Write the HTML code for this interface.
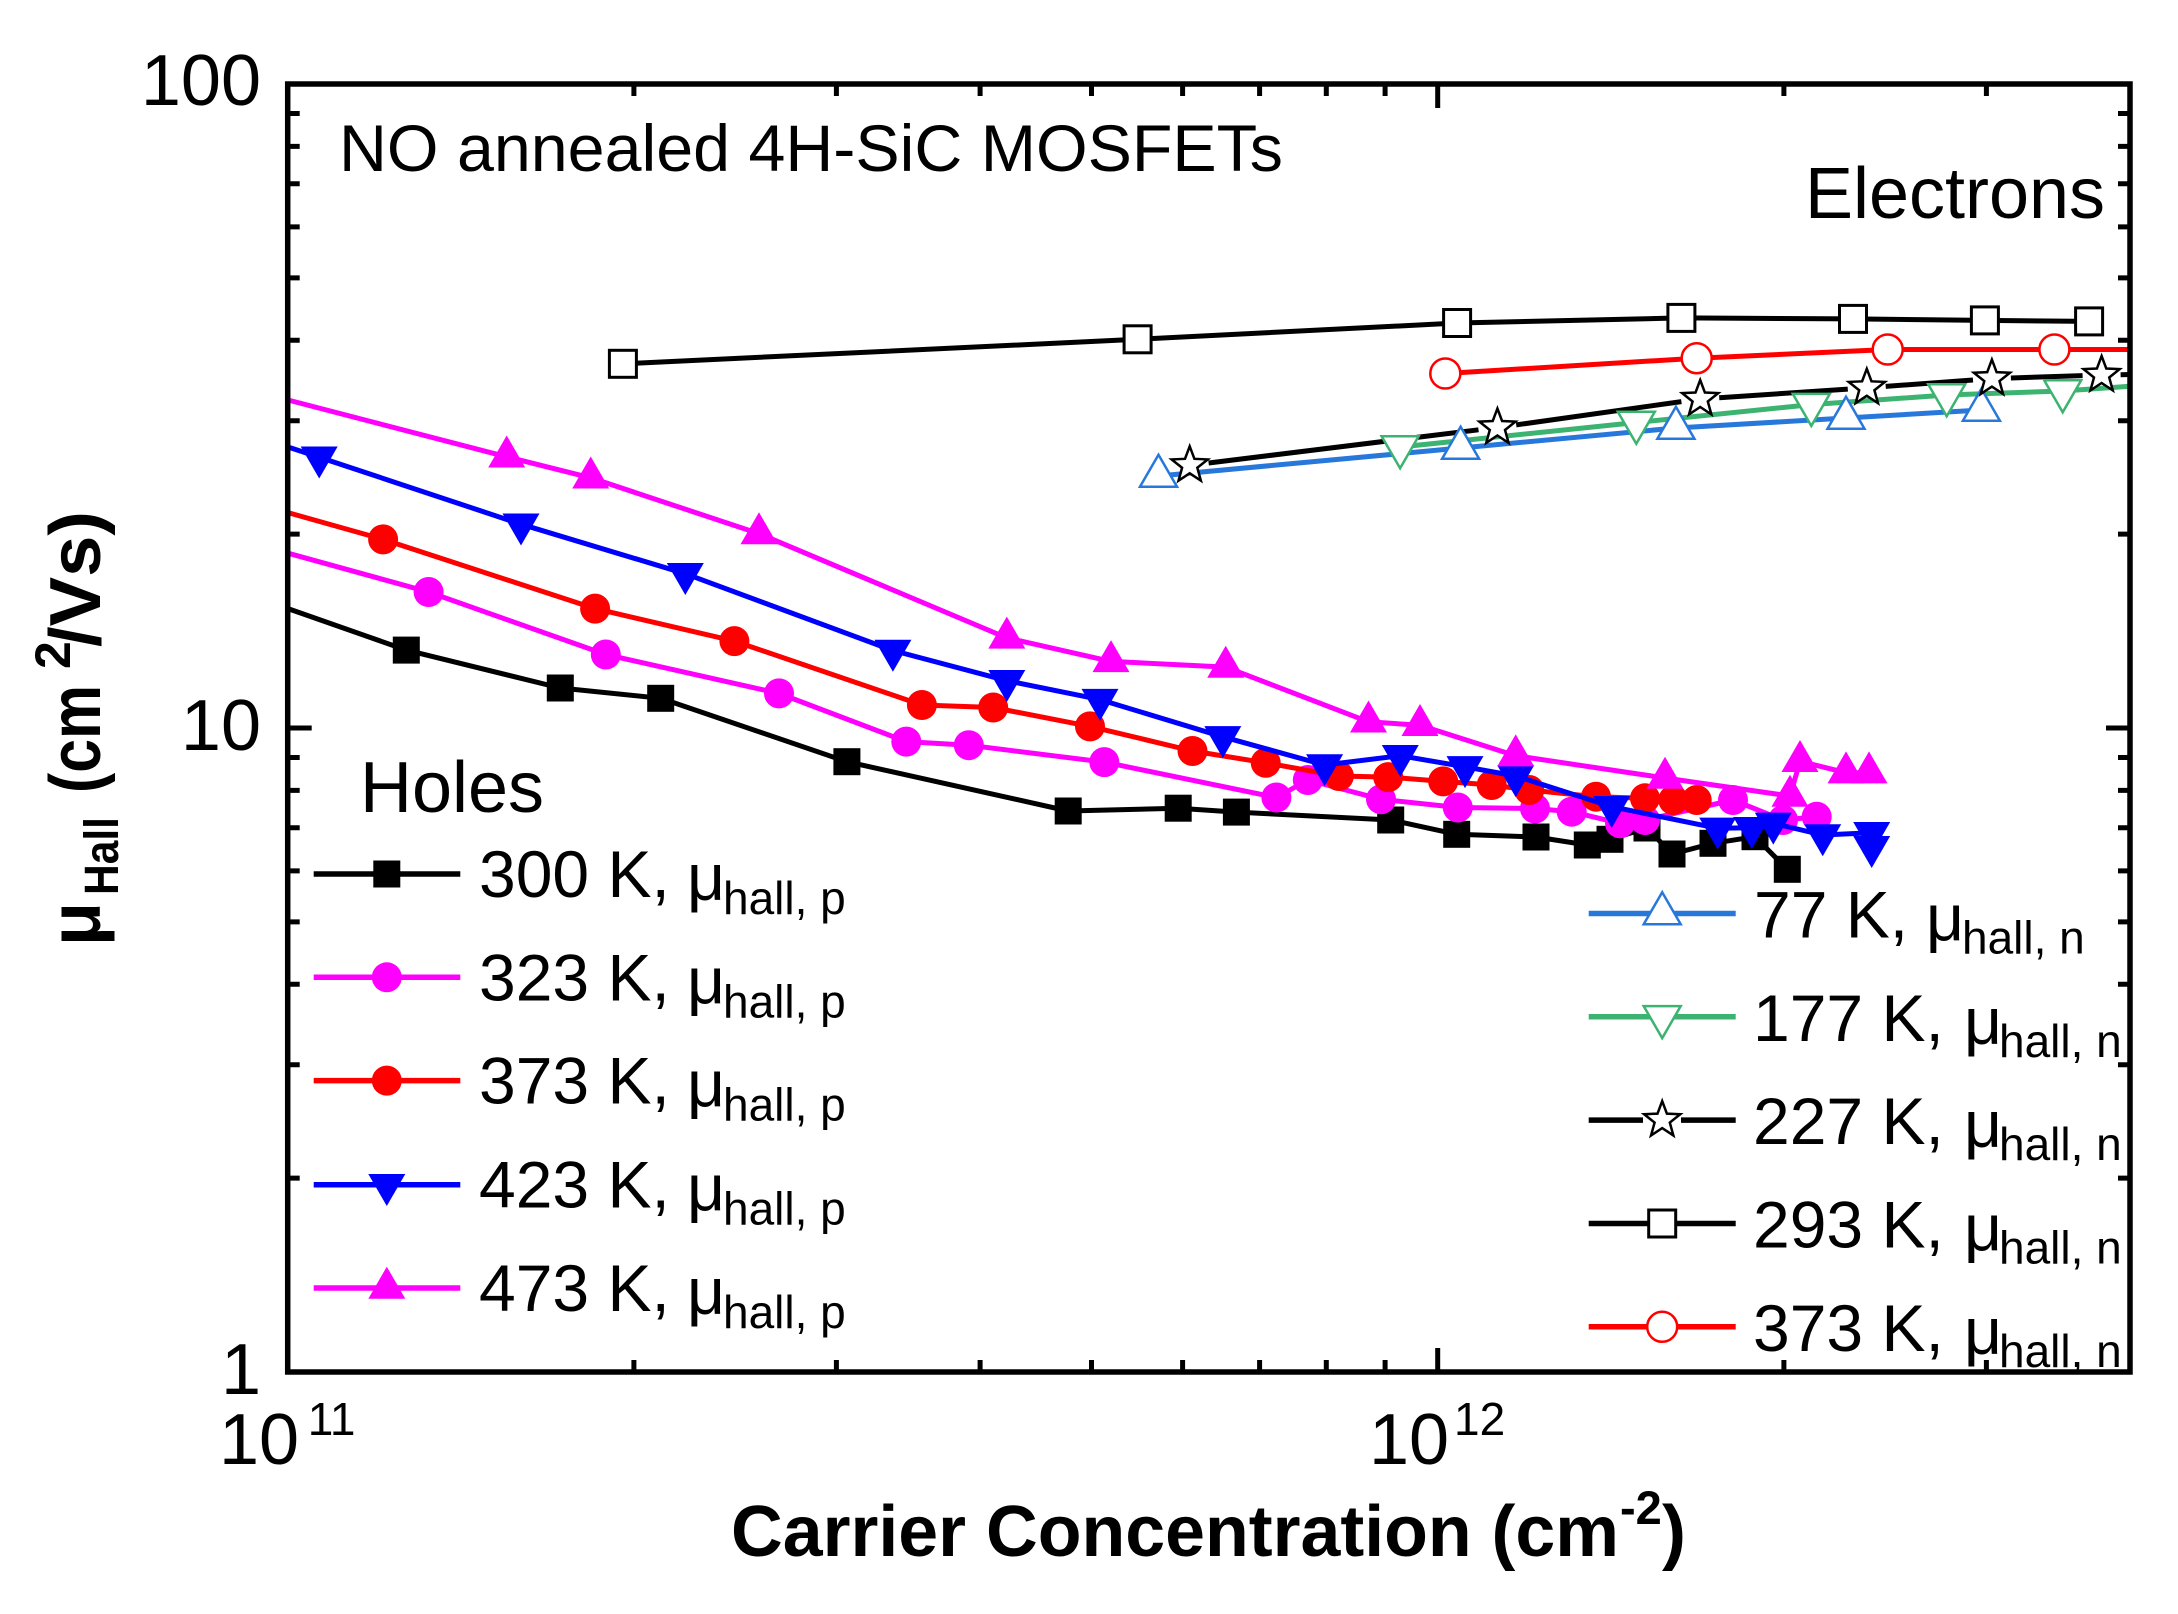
<!DOCTYPE html>
<html><head><meta charset="utf-8"><style>
html,body{margin:0;padding:0;background:#fff;}
svg{display:block;}
text{font-family:"Liberation Sans",Arial,sans-serif;fill:#000;}
</style></head><body>
<svg width="2178" height="1614" viewBox="0 0 2178 1614" xmlns="http://www.w3.org/2000/svg">
<rect x="0" y="0" width="2178" height="1614" fill="#fff"/>
<defs>
<rect id="sq" x="-13.5" y="-13.5" width="27" height="27" fill="#000"/>
<circle id="cm" cx="0" cy="0" r="15" fill="#ff00ff"/>
<circle id="cr" cx="0" cy="0" r="15" fill="#ff0000"/>
<polygon id="td" points="-18.5,-10.7 18.5,-10.7 0,21.3" fill="#0000ff"/>
<polygon id="tu" points="0,-21.3 18.5,10.7 -18.5,10.7" fill="#ff00ff"/>
<polygon id="otu" points="0,-21.3 18.5,10.7 -18.5,10.7" fill="#fff" stroke="#2878dc" stroke-width="2.5"/>
<polygon id="otd" points="-18.5,-10.7 18.5,-10.7 0,21.3" fill="#fff" stroke="#3cb371" stroke-width="2.5"/>
<polygon id="st" points="0,-19 4.7,-6.47 18.07,-5.87 7.61,2.47 11.17,15.37 0,8 -11.17,15.37 -7.61,2.47 -18.07,-5.87 -4.7,-6.47" fill="#fff" stroke="#000" stroke-width="2.5" stroke-linejoin="miter"/>
<rect id="osq" x="-13.5" y="-13.5" width="27" height="27" fill="#fff" stroke="#000" stroke-width="3"/>
<circle id="oc" cx="0" cy="0" r="15" fill="#fff" stroke="#ff0000" stroke-width="2.5"/>
</defs>

<!-- Electrons series -->
<g fill="none" stroke-width="5" stroke-linejoin="round">
<polyline stroke="#3cb371" points="1400.1,447 1636.3,422.5 1811.3,404.6 1946.7,395 2062.7,391 2130,386.2"/>
<polyline stroke="#2878dc" points="1158.5,476 1460.6,448 1675.9,428 1846,418 1981.4,410"/>
<g stroke="#000">
<line x1="1208.6" y1="463" x2="1478.5" y2="429.8"/>
<line x1="1516.2" y1="424.9" x2="1681.4" y2="401.6"/>
<line x1="1719.2" y1="397.7" x2="1847.8" y2="389.1"/>
<line x1="1885.7" y1="386.4" x2="1973" y2="380"/>
<line x1="2010.9" y1="378" x2="2082.6" y2="375.6"/>
<line x1="2120.6" y1="374.7" x2="2130" y2="374.5"/>
</g>
<polyline stroke="#000" points="622.9,363.8 1137.6,339.3 1457.1,323 1681.4,317.9 1853,318.9 1984.9,320.4 2089.1,321.4"/>
<polyline stroke="#ff0000" points="1445.3,373.5 1696.7,358.2 1887.7,349.5 2054.4,349.5 2130,349.5"/>
</g>
<g>
<use href="#otd" x="1400.1" y="447"/><use href="#otd" x="1636.3" y="422.5"/><use href="#otd" x="1811.3" y="404.6"/><use href="#otd" x="1946.7" y="395"/><use href="#otd" x="2062.7" y="391"/>
<use href="#otu" x="1158.5" y="476"/><use href="#otu" x="1460.6" y="448"/><use href="#otu" x="1675.9" y="428"/><use href="#otu" x="1846" y="418"/><use href="#otu" x="1981.4" y="410"/>
<use href="#st" x="1189.7" y="465.3"/><use href="#st" x="1497.4" y="427.5"/><use href="#st" x="1700.2" y="399"/><use href="#st" x="1866.8" y="387.8"/><use href="#st" x="1991.9" y="378.6"/><use href="#st" x="2101.6" y="375"/>
<use href="#osq" x="622.9" y="363.8"/><use href="#osq" x="1137.6" y="339.3"/><use href="#osq" x="1457.1" y="323"/><use href="#osq" x="1681.4" y="317.9"/><use href="#osq" x="1853" y="318.9"/><use href="#osq" x="1984.9" y="320.4"/><use href="#osq" x="2089.1" y="321.4"/>
<use href="#oc" x="1445.3" y="373.5"/><use href="#oc" x="1696.7" y="358.2"/><use href="#oc" x="1887.7" y="349.5"/><use href="#oc" x="2054.4" y="349.5"/>
</g>

<!-- Holes series -->
<g fill="none" stroke-width="5" stroke-linejoin="round">
<polyline stroke="#000" points="288,608.6 406.3,650.1 560.3,688 660.7,698.3 846.9,761.7 1068.2,811 1178.2,808.2 1236.4,812.1 1390.7,820 1456.7,834.3 1536,837 1587.3,845 1610,839.3 1647,828 1672,854 1713,843.3 1755,836.7 1787.3,869.3"/>
</g>
<g>
<use href="#sq" x="406.3" y="650.1"/><use href="#sq" x="560.3" y="688"/><use href="#sq" x="660.7" y="698.3"/><use href="#sq" x="846.9" y="761.7"/><use href="#sq" x="1068.2" y="811"/><use href="#sq" x="1178.2" y="808.2"/><use href="#sq" x="1236.4" y="812.1"/><use href="#sq" x="1390.7" y="820"/><use href="#sq" x="1456.7" y="834.3"/><use href="#sq" x="1536" y="837"/><use href="#sq" x="1587.3" y="845"/><use href="#sq" x="1610" y="839.3"/><use href="#sq" x="1647" y="828"/><use href="#sq" x="1672" y="854"/><use href="#sq" x="1713" y="843.3"/><use href="#sq" x="1755" y="836.7"/><use href="#sq" x="1787.3" y="869.3"/>
</g>
<polyline fill="none" stroke="#ff00ff" stroke-width="5" stroke-linejoin="round" points="288,553.2 428.6,592 605.8,654.5 779,693.4 906.3,741.6 968.8,745.2 1104.3,762.1 1276.4,797.5 1307.8,780 1381,799.3 1457.8,807.5 1535,808.5 1571.7,811.7 1620,823.3 1645,820 1733,800 1783,820 1816.7,816.7"/>
<g>
<use href="#cm" x="428.6" y="592"/><use href="#cm" x="605.8" y="654.5"/><use href="#cm" x="779" y="693.4"/><use href="#cm" x="906.3" y="741.6"/><use href="#cm" x="968.8" y="745.2"/><use href="#cm" x="1104.3" y="762.1"/><use href="#cm" x="1276.4" y="797.5"/><use href="#cm" x="1307.8" y="780"/><use href="#cm" x="1381" y="799.3"/><use href="#cm" x="1457.8" y="807.5"/><use href="#cm" x="1535" y="808.5"/><use href="#cm" x="1571.7" y="811.7"/><use href="#cm" x="1620" y="823.3"/><use href="#cm" x="1645" y="820"/><use href="#cm" x="1733" y="800"/><use href="#cm" x="1783" y="820"/><use href="#cm" x="1816.7" y="816.7"/>
</g>
<polyline fill="none" stroke="#ff0000" stroke-width="5" stroke-linejoin="round" points="288,512.6 383.1,539.4 595.1,608.6 734.4,641.1 921.9,705 993.2,707.5 1090,726.4 1192.5,751 1265.7,762.8 1338.9,776 1388.2,777.1 1443.2,781.4 1491.7,785 1529.3,790 1596,796.7 1645,798.3 1673.3,800 1696.7,800"/>
<g>
<use href="#cr" x="383.1" y="539.4"/><use href="#cr" x="595.1" y="608.6"/><use href="#cr" x="734.4" y="641.1"/><use href="#cr" x="921.9" y="705"/><use href="#cr" x="993.2" y="707.5"/><use href="#cr" x="1090" y="726.4"/><use href="#cr" x="1192.5" y="751"/><use href="#cr" x="1265.7" y="762.8"/><use href="#cr" x="1338.9" y="776"/><use href="#cr" x="1388.2" y="777.1"/><use href="#cr" x="1443.2" y="781.4"/><use href="#cr" x="1491.7" y="785"/><use href="#cr" x="1529.3" y="790"/><use href="#cr" x="1596" y="796.7"/><use href="#cr" x="1645" y="798.3"/><use href="#cr" x="1673.3" y="800"/><use href="#cr" x="1696.7" y="800"/>
</g>
<polyline fill="none" stroke="#0000ff" stroke-width="5" stroke-linejoin="round" points="288,447 319.2,457.2 521,524.2 685.3,573.7 892.9,650.5 1006.8,680.7 1100,699.6 1222.8,736.8 1324.6,765 1400.3,755.7 1465,766.8 1515.7,776 1611.7,806.7 1717.7,828.3 1751.7,827.7 1773.3,823.3 1822.7,835 1871.7,832.7 1871.7,846.7"/>
<g>
<use href="#td" x="319.2" y="457.2"/><use href="#td" x="521" y="524.2"/><use href="#td" x="685.3" y="573.7"/><use href="#td" x="892.9" y="650.5"/><use href="#td" x="1006.8" y="680.7"/><use href="#td" x="1100" y="699.6"/><use href="#td" x="1222.8" y="736.8"/><use href="#td" x="1324.6" y="765"/><use href="#td" x="1400.3" y="755.7"/><use href="#td" x="1465" y="766.8"/><use href="#td" x="1515.7" y="776"/><use href="#td" x="1611.7" y="806.7"/><use href="#td" x="1717.7" y="828.3"/><use href="#td" x="1751.7" y="827.7"/><use href="#td" x="1773.3" y="823.3"/><use href="#td" x="1822.7" y="835"/><use href="#td" x="1871.7" y="832.7"/><use href="#td" x="1871.7" y="846.7"/>
</g>
<polyline fill="none" stroke="#ff00ff" stroke-width="5" stroke-linejoin="round" points="288,400 506.7,456.8 590.7,477.8 759,533.6 1006.8,637.9 1111,661.4 1225.7,667.1 1368.5,721.8 1420,725.3 1515.7,755.7 1665,778 1790,796 1800,761.3 1846,772.7 1869,772.7"/>
<g>
<use href="#tu" x="506.7" y="456.8"/><use href="#tu" x="590.7" y="477.8"/><use href="#tu" x="759" y="533.6"/><use href="#tu" x="1006.8" y="637.9"/><use href="#tu" x="1111" y="661.4"/><use href="#tu" x="1225.7" y="667.1"/><use href="#tu" x="1368.5" y="721.8"/><use href="#tu" x="1420" y="725.3"/><use href="#tu" x="1515.7" y="755.7"/><use href="#tu" x="1665" y="778"/><use href="#tu" x="1790" y="796"/><use href="#tu" x="1800" y="761.3"/><use href="#tu" x="1846" y="772.7"/><use href="#tu" x="1869" y="772.7"/>
</g>

<!-- Legend: holes -->
<g stroke-width="5.5" fill="none">
<line x1="313.7" y1="874" x2="460.3" y2="874" stroke="#000"/>
<line x1="313.7" y1="977.3" x2="460.3" y2="977.3" stroke="#ff00ff"/>
<line x1="313.7" y1="1080.6" x2="460.3" y2="1080.6" stroke="#ff0000"/>
<line x1="313.7" y1="1184.7" x2="460.3" y2="1184.7" stroke="#0000ff"/>
<line x1="313.7" y1="1288" x2="460.3" y2="1288" stroke="#ff00ff"/>
</g>
<use href="#sq" x="386.8" y="874"/>
<use href="#cm" x="386.8" y="977.3"/>
<use href="#cr" x="386.8" y="1080.6"/>
<use href="#td" x="386.8" y="1184.7"/>
<use href="#tu" x="386.8" y="1288"/>
<g font-size="66">
<text x="479" y="897">300 K,</text>
<text x="479" y="1000.3">323 K,</text>
<text x="479" y="1103.6">373 K,</text>
<text x="479" y="1207.7">423 K,</text>
<text x="479" y="1311">473 K,</text>
<text x="687" y="900">μ</text>
<text x="687" y="1003.3">μ</text>
<text x="687" y="1106.6">μ</text>
<text x="687" y="1210.7">μ</text>
<text x="687" y="1314">μ</text>
</g>
<g font-size="46">
<text x="723" y="914">hall, p</text>
<text x="723" y="1017.3">hall, p</text>
<text x="723" y="1120.6">hall, p</text>
<text x="723" y="1224.7">hall, p</text>
<text x="723" y="1328">hall, p</text>
</g>

<!-- Legend: electrons -->
<g stroke-width="5.5" fill="none">
<line x1="1588.7" y1="913.5" x2="1735.7" y2="913.5" stroke="#2878dc"/>
<line x1="1588.7" y1="1016.8" x2="1735.7" y2="1016.8" stroke="#3cb371"/>
<line x1="1588.7" y1="1120.1" x2="1643" y2="1120.1" stroke="#000"/>
<line x1="1681" y1="1120.1" x2="1735.7" y2="1120.1" stroke="#000"/>
<line x1="1588.7" y1="1223.5" x2="1735.7" y2="1223.5" stroke="#000"/>
<line x1="1588.7" y1="1326.8" x2="1735.7" y2="1326.8" stroke="#ff0000"/>
</g>
<use href="#otu" x="1662.2" y="913.5"/>
<use href="#otd" x="1662.2" y="1016.8"/>
<use href="#st" x="1662.2" y="1120.1"/>
<use href="#osq" x="1662.2" y="1223.5"/>
<use href="#oc" x="1662.2" y="1326.8"/>
<g font-size="66">
<text x="1754" y="937.5">77 K,</text>
<text x="1753" y="1040.8">177 K,</text>
<text x="1753" y="1144.1">227 K,</text>
<text x="1753" y="1247.5">293 K,</text>
<text x="1753" y="1350.8">373 K,</text>
<text x="1926" y="940.5">μ</text>
<text x="1964" y="1043.8">μ</text>
<text x="1964" y="1147.1">μ</text>
<text x="1964" y="1250.5">μ</text>
<text x="1964" y="1353.8">μ</text>
</g>
<g font-size="46">
<text x="1962" y="953.5">hall, n</text>
<text x="1999" y="1056.8">hall, n</text>
<text x="1999" y="1160.1">hall, n</text>
<text x="1999" y="1263.5">hall, n</text>
<text x="1999" y="1366.8">hall, n</text>
</g>

<!-- Annotations -->
<text x="339" y="171" font-size="66" textLength="944" lengthAdjust="spacingAndGlyphs">NO annealed 4H-SiC MOSFETs</text>
<text x="1805" y="218" font-size="72" textLength="300" lengthAdjust="spacingAndGlyphs">Electrons</text>
<text x="360" y="812" font-size="72" textLength="184" lengthAdjust="spacingAndGlyphs">Holes</text>

<!-- Frame and ticks -->
<rect x="287.7" y="84" width="1842.3" height="1288" fill="none" stroke="#000" stroke-width="5.5"/>
<g stroke="#000" stroke-width="5" fill="none">
<path d="M633.9 1372v-12M836.4 1372v-12M980.1 1372v-12M1091.5 1372v-12M1182.6 1372v-12M1259.6 1372v-12M1326.3 1372v-12M1385.1 1372v-12M1783.9 1372v-12M1986.4 1372v-12M1437.7 1372v-24"/>
<path d="M633.9 84v12M836.4 84v12M980.1 84v12M1091.5 84v12M1182.6 84v12M1259.6 84v12M1326.3 84v12M1385.1 84v12M1783.9 84v12M1986.4 84v12M1437.7 84v24"/>
<path d="M287.7 1178.1h12M287.7 1064.7h12M287.7 984.3h12M287.7 921.9h12M287.7 870.9h12M287.7 827.8h12M287.7 790.4h12M287.7 757.5h12M287.7 534.1h12M287.7 420.7h12M287.7 340.3h12M287.7 277.9h12M287.7 226.9h12M287.7 183.8h12M287.7 146.4h12M287.7 113.5h12M287.7 728h24"/>
<path d="M2130 1178.1h-12M2130 1064.7h-12M2130 984.3h-12M2130 921.9h-12M2130 870.9h-12M2130 827.8h-12M2130 790.4h-12M2130 757.5h-12M2130 534.1h-12M2130 420.7h-12M2130 340.3h-12M2130 277.9h-12M2130 226.9h-12M2130 183.8h-12M2130 146.4h-12M2130 113.5h-12M2130 728h-24"/>
</g>

<!-- Tick labels -->
<g font-size="72" text-anchor="end">
<text x="261" y="105">100</text>
<text x="261" y="750">10</text>
<text x="261" y="1394">1</text>
</g>
<text x="219" y="1464" font-size="72">10</text>
<text x="307.7" y="1435" font-size="46">11</text>
<text x="1369" y="1464" font-size="72">10</text>
<text x="1454" y="1435" font-size="46">12</text>

<!-- Axis titles -->
<g font-weight="bold">
<text x="731" y="1556" font-size="72" textLength="888" lengthAdjust="spacingAndGlyphs">Carrier Concentration (cm</text>
<text x="1620" y="1524" font-size="47">-2</text>
<text x="1662" y="1556" font-size="72">)</text>
<g transform="translate(100,943) rotate(-90)">
<text x="-3" y="0" font-size="72">μ</text>
<text x="48" y="18" font-size="48" textLength="78" lengthAdjust="spacingAndGlyphs">Hall</text>
<text x="150" y="0" font-size="72" textLength="108" lengthAdjust="spacingAndGlyphs">(cm</text>
<text x="274" y="-30" font-size="50">2</text>
<text x="296" y="0" font-size="72" textLength="136" lengthAdjust="spacingAndGlyphs">/Vs)</text>
</g>
</g>
</svg>
</body></html>
